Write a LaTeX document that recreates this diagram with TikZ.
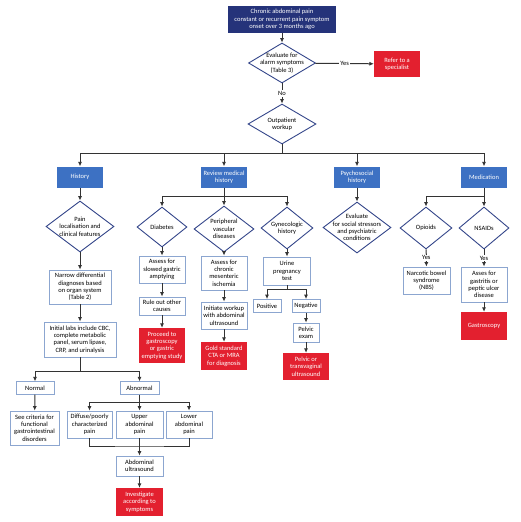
\documentclass[tikz,border=0pt]{standalone}
\usepackage{fontspec}
\setmainfont{Carlito}
\usetikzlibrary{arrows.meta,shapes.geometric}
\definecolor{navy}{HTML}{25337A}
\definecolor{headblue}{HTML}{3D71C3}
\definecolor{endred}{HTML}{E3202F}
\definecolor{boxedge}{HTML}{8CA6D0}
\definecolor{diaedge}{HTML}{34468A}
\definecolor{wire}{HTML}{333333}
\tikzset{
  every node/.style={font=\fontsize{6.5}{7.3}\selectfont, align=center, inner sep=1pt},
  startbox/.style={fill=navy, text=white, minimum width=108pt, minimum height=27pt},
  headbox/.style={fill=headblue, text=white, minimum width=46pt, minimum height=21pt},
  plainbox/.style={draw=boxedge, fill=white, line width=.9pt, minimum width=46pt},
  endbox/.style={fill=endred, text=white, minimum width=46pt},
  choice/.style={diamond, draw=diaedge, line width=.9pt, fill=white, inner sep=0pt},
  wire/.style={draw=wire, line width=1pt},
  arr/.style={wire, -{Latex[length=4.5pt,width=4.2pt]}}
}
\begin{document}
\begin{tikzpicture}[x=1pt,y=-1pt]
\useasboundingbox (0,0) rectangle (520,522);
% top
\node[startbox] (start) at (282,19.5) {Chronic abdominal pain\\constant or recurrent pain symptom\\onset over 3 months ago};
\node[choice, minimum width=67pt, minimum height=40pt, label=center:{Evaluate for\\alarm symptoms\\(Table 3)}] (alarm) at (282,63) {};
\node[endbox, minimum height=26pt] (refer) at (397,64) {Refer to a\\specialist};
\node[choice, minimum width=68pt, minimum height=40pt, label=center:{Outpatient\\workup}] (outpt) at (282,124) {};
\draw[arr] (start) -- (alarm);
\draw[arr] (alarm) -- node[fill=white]{Yes} (refer);
\draw[arr] (alarm) -- node[fill=white]{No} (outpt);
% four headings
\node[headbox] (hist) at (80,177) {History};
\node[headbox] (review) at (224,177) {Review medical\\history};
\node[headbox] (psych) at (357,177) {Psychosocial\\history};
\node[headbox] (med) at (484,177) {Medication};
\coordinate (bar) at (282,153);
\draw[wire] (outpt) -- (bar);
\draw[arr] (bar) -| (hist);
\draw[arr] (bar) -| (review);
\draw[arr] (bar) -| (psych);
\draw[arr] (bar) -| (med);
% history
\node[choice, minimum width=68pt, minimum height=51pt, label=center:{Pain\\localisation and\\clinical features}] (pain) at (80,226.5) {};
\node[plainbox, minimum width=62pt, minimum height=34pt] (narrow) at (80,287) {Narrow differential\\diagnoses based\\on organ system\\(Table 2)};
\node[plainbox, minimum width=72pt, minimum height=35pt] (labs) at (80,339.5) {Initial labs include CBC,\\complete metabolic\\panel, serum lipase,\\CRP, and urinalysis};
\node[plainbox, minimum width=38pt, minimum height=12.5pt] (normal) at (35,388) {Normal};
\node[plainbox, minimum width=39pt, minimum height=12.5pt] (abn) at (139.5,388) {Abnormal};
\node[plainbox, minimum width=49pt, minimum height=34pt] (crit) at (34.5,428) {See criteria for\\functional\\gastrointestinal\\disorders};
\node[plainbox, minimum width=45pt, minimum height=27pt] (diffuse) at (89.5,424.5) {Diffuse/poorly\\characterized\\pain};
\node[plainbox, minimum width=47pt, minimum height=27pt] (upper) at (139.5,424.5) {Upper\\abdominal\\pain};
\node[plainbox, minimum width=46pt, minimum height=27pt] (lower) at (189,424.5) {Lower\\abdominal\\pain};
\node[plainbox, minimum width=47pt, minimum height=20pt] (abdus) at (139.5,466) {Abdominal\\ultrasound};
\node[endbox, minimum width=47pt, minimum height=28pt] (invest) at (139.5,502) {Investigate\\according to\\symptoms};
\coordinate (lbar) at (80,371);
\coordinate (abar) at (139.5,402);
\coordinate (jbar) at (139.5,446);
\draw[arr] (hist) -- (pain);
\draw[arr] (pain) -- (narrow);
\draw[arr] (narrow) -- (labs);
\draw[wire] (labs) -- (lbar);
\draw[arr] (lbar) -| (normal);
\draw[arr] (lbar) -| (abn);
\draw[arr] (normal) -- (crit);
\draw[arr] (abn) -- (upper);
\draw[arr] (abar) -| (diffuse);
\draw[arr] (abar) -| (lower);
\draw[wire] (diffuse) |- (jbar) -| (lower);
\draw[arr] (upper) -- (abdus);
\draw[arr] (abdus) -- (invest);
% review medical history
\node[choice, minimum width=50pt, minimum height=40pt, label=center:{Diabetes}] (diab) at (162,227) {};
\node[choice, minimum width=60pt, minimum height=46pt, label=center:{Peripheral\\vascular\\diseases}] (periph) at (224,229) {};
\node[choice, minimum width=52pt, minimum height=42pt, label=center:{Gynecologic\\history}] (gyn) at (287,228) {};
\coordinate (rbar) at (224,196);
\draw[arr] (review) -- (periph);
\draw[arr] (rbar) -| (diab);
\draw[arr] (rbar) -| (gyn);
\node[plainbox, minimum height=27pt] (slowed) at (162,269.5) {Assess for\\slowed gastric\\amptying};
\node[plainbox, minimum height=18pt] (ruleout) at (162,306) {Rule out other\\causes};
\node[endbox, minimum height=35pt] (proceed) at (162,345.5) {Proceed to\\gastroscopy\\or gastric\\emptying study};
\draw[arr] (diab) -- (slowed);
\draw[arr] (slowed) -- (ruleout);
\draw[arr] (ruleout) -- (proceed);
\node[plainbox, minimum height=34pt] (chronic) at (224,273) {Assess for\\chronic\\mesenteric\\ischemia};
\node[plainbox, minimum height=27pt] (initiate) at (224,315.5) {Initiate workup\\with abdominal\\ultrasound};
\node[endbox, minimum height=28pt] (gold) at (224,356) {Gold standard\\CTA or MRA\\for diagnosis};
\draw[arr] (periph) -- (chronic);
\draw[arr] (chronic) -- (initiate);
\draw[arr] (initiate) -- (gold);
\node[plainbox, minimum width=47pt, minimum height=28pt] (urine) at (287,271) {Urine\\pregnancy\\test};
\node[plainbox, minimum width=28pt, minimum height=13pt] (pos) at (267,306) {Positive};
\node[plainbox, minimum width=28pt, minimum height=13pt] (neg) at (306,306) {Negative};
\node[plainbox, minimum width=26pt, minimum height=19pt] (pelvic) at (306,332.5) {Pelvic\\exam};
\node[endbox, minimum height=27pt] (tvus) at (306,366.5) {Pelvic or\\transvaginal\\ultrasound};
\coordinate (ubar) at (287,289.5);
\draw[arr] (gyn) -- (urine);
\draw[wire] (urine) -- (ubar);
\draw[arr] (ubar) -| (pos);
\draw[arr] (ubar) -| (neg);
\draw[arr] (neg) -- (pelvic);
\draw[arr] (pelvic) -- (tvus);
% psychosocial
\node[choice, minimum width=68pt, minimum height=51pt, label=center:{Evaluate\\for social stressors\\and psychiatric\\conditions}] (stress) at (357,227.5) {};
\draw[arr] (psych) -- (stress);
% medication
\node[choice, minimum width=52pt, minimum height=42pt, label=center:{Opioids}] (opioid) at (426,228) {};
\node[choice, minimum width=50pt, minimum height=42pt, label=center:{NSAIDs}] (nsaid) at (484,228) {};
\coordinate (mbar) at (484,196);
\draw[arr] (med) -- (nsaid);
\draw[arr] (mbar) -| (opioid);
\node[plainbox, minimum width=47pt, minimum height=27pt] (nbs) at (426.5,280.5) {Narcotic bowel\\syndrome\\(NBS)};
\node[plainbox, minimum width=46pt, minimum height=35pt] (gastritis) at (484,284.5) {Asses for\\gastritis or\\peptic ulcer\\disease};
\node[endbox, minimum width=46pt, minimum height=28pt] (gastro) at (484,326) {Gastroscopy};
\draw[arr] (opioid) -- node[fill=white]{Yes} (nbs);
\draw[arr] (nsaid) -- node[fill=white]{Yes} (gastritis);
\draw[arr] (gastritis) -- (gastro);
\end{tikzpicture}
\end{document}
